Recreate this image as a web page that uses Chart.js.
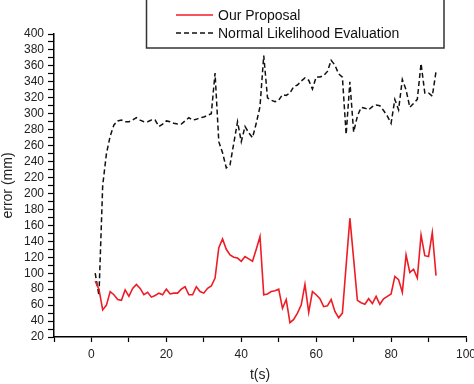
<!DOCTYPE html>
<html>
<head>
<meta charset="utf-8">
<script src="https://cdn.jsdelivr.net/npm/chart.js@4/dist/chart.umd.min.js"></script>
<style>
  html, body { margin: 0; padding: 0; background: #fff; }
  #wrap { width: 474px; height: 384px; }
</style>
</head>
<body>
<div id="wrap"><canvas id="chart" width="474" height="384"></canvas></div>
<script>
// time axis (seconds)
const times = [1, 2, 3, 4, 5, 6, 7, 8, 9, 10, 11, 12, 13, 14, 15, 16, 17, 18, 19, 20,
  21, 22, 23, 24, 25, 26, 27, 28, 29, 30, 31, 32, 33, 34, 35, 36, 37, 38, 39, 40,
  41, 42, 43, 44, 45, 46, 47, 48, 49, 50, 51, 52, 53, 54, 55, 56, 57, 58, 59, 60,
  61, 62, 63, 64, 65, 66, 67, 68, 69, 70, 71, 72, 73, 74, 75, 76, 77, 78, 79, 80,
  81, 82, 83, 84, 85, 86, 87, 88, 89, 90, 91, 92];

// error (mm) - our proposal
const proposalErr = [90, 80, 54, 60, 77, 73, 67, 66, 79, 71, 81, 86, 81, 73, 76, 70, 72, 75, 73, 80,
  74, 75, 75, 80, 83, 73, 73, 83, 77, 75, 81, 84, 94, 132, 143, 130, 123, 120, 119, 115,
  121, 118, 115, 130, 146, 73, 74, 77, 78, 80, 56, 67, 38, 42, 50, 60, 86, 51, 77, 73,
  68, 58, 59, 67, 52, 44, 50, 110, 169, 118, 66, 63, 61, 68, 62, 71, 61, 68, 71, 74,
  96, 92, 76, 123, 101, 105, 94, 148, 122, 121, 151, 97];

// error (mm) - normal likelihood evaluation
const normalErr = [100, 72, 210, 250, 272, 286, 291, 292, 290, 290, 292, 295, 292, 290, 290, 292, 292, 284, 287, 291,
  290, 288, 287, 287, 291, 295, 292, 293, 295, 296, 298, 300, 351, 265, 251, 232, 236, 263, 290, 265,
  284, 276, 270, 288, 309, 373, 320, 317, 315, 317, 324, 323, 326, 334, 336, 341, 345, 342, 331, 346,
  346, 348, 353, 367, 361, 350, 346, 274, 340, 277, 297, 308, 307, 305, 309, 311, 310, 304, 297, 288,
  318, 305, 343, 330, 308, 313, 318, 363, 326, 326, 322, 353];

const seriesNames = ["Our Proposal", "Normal Likelihood Evaluation"];

const FONT = "'Liberation Sans', Arial, Helvetica, sans-serif";

function toPoints(ys) {
  return times.map((t, i) => ({ x: t, y: ys[i] }));
}

// boxed legend at the top, drawn by hand
const boxLegend = {
  id: "boxLegend",
  afterDraw(chart) {
    const ctx = chart.ctx;
    ctx.save();
    ctx.strokeStyle = "#333";
    ctx.lineWidth = 1.5;
    ctx.strokeRect(146.5, -1, 297.5, 49);
    ctx.font = "14px " + FONT;
    ctx.textBaseline = "middle";
    chart.data.datasets.forEach((ds, i) => {
      const y = 15 + i * 18;
      ctx.beginPath();
      ctx.setLineDash(ds.borderDash || []);
      ctx.strokeStyle = ds.borderColor;
      ctx.lineWidth = ds.borderWidth;
      ctx.moveTo(176, y);
      ctx.lineTo(213, y);
      ctx.stroke();
      ctx.setLineDash([]);
      ctx.fillStyle = "#111";
      ctx.fillText(ds.label, 218, y + 1);
    });
    ctx.restore();
  }
};

new Chart(document.getElementById("chart"), {
  type: "line",
  data: {
    datasets: [
      {
        label: seriesNames[0],
        data: toPoints(proposalErr),
        borderColor: "#ee1c25",
        borderWidth: 1.6,
        pointRadius: 0,
        tension: 0
      },
      {
        label: seriesNames[1],
        data: toPoints(normalErr),
        borderColor: "#111",
        borderWidth: 1.5,
        borderDash: [5, 3],
        pointRadius: 0,
        tension: 0
      }
    ]
  },
  options: {
    responsive: false,
    animation: false,
    layout: { padding: { top: 34, left: 0, right: 0, bottom: 0 } },
    plugins: {
      legend: { display: false },
      tooltip: { enabled: false }
    },
    scales: {
      x: {
        type: "linear",
        min: -10,
        max: 100,
        ticks: {
          stepSize: 10,
          autoSkip: false,
          maxRotation: 0,
          color: "#222",
          padding: 5,
          font: { family: FONT, size: 12 },
          callback: v => (v % 20 === 0 ? v : "")
        },
        grid: { drawOnChartArea: false, tickLength: 5, tickColor: "#000", tickWidth: 1.2 },
        border: { color: "#000", width: 1.5 },
        title: {
          display: true,
          text: "t(s)",
          color: "#222",
          font: { family: FONT, size: 14 },
          padding: { top: 0, bottom: 0 }
        },
        afterFit: s => { s.height = 47; s.paddingRight = 8; }
      },
      y: {
        min: 20,
        max: 400,
        ticks: {
          stepSize: 10,
          autoSkip: false,
          color: "#222",
          padding: 4,
          font: { family: FONT, size: 12 },
          callback: v => (v % 20 === 0 ? v : "")
        },
        grid: { drawOnChartArea: false, tickLength: 6, tickColor: "#000", tickWidth: 1.2 },
        border: { color: "#000", width: 1.5 },
        title: {
          display: true,
          text: "error (mm)",
          color: "#222",
          font: { family: FONT, size: 14 },
          padding: { top: 0, bottom: 0 }
        },
        afterFit: s => { s.width = 54; }
      }
    }
  },
  plugins: [boxLegend]
});
</script>
</body>
</html>
